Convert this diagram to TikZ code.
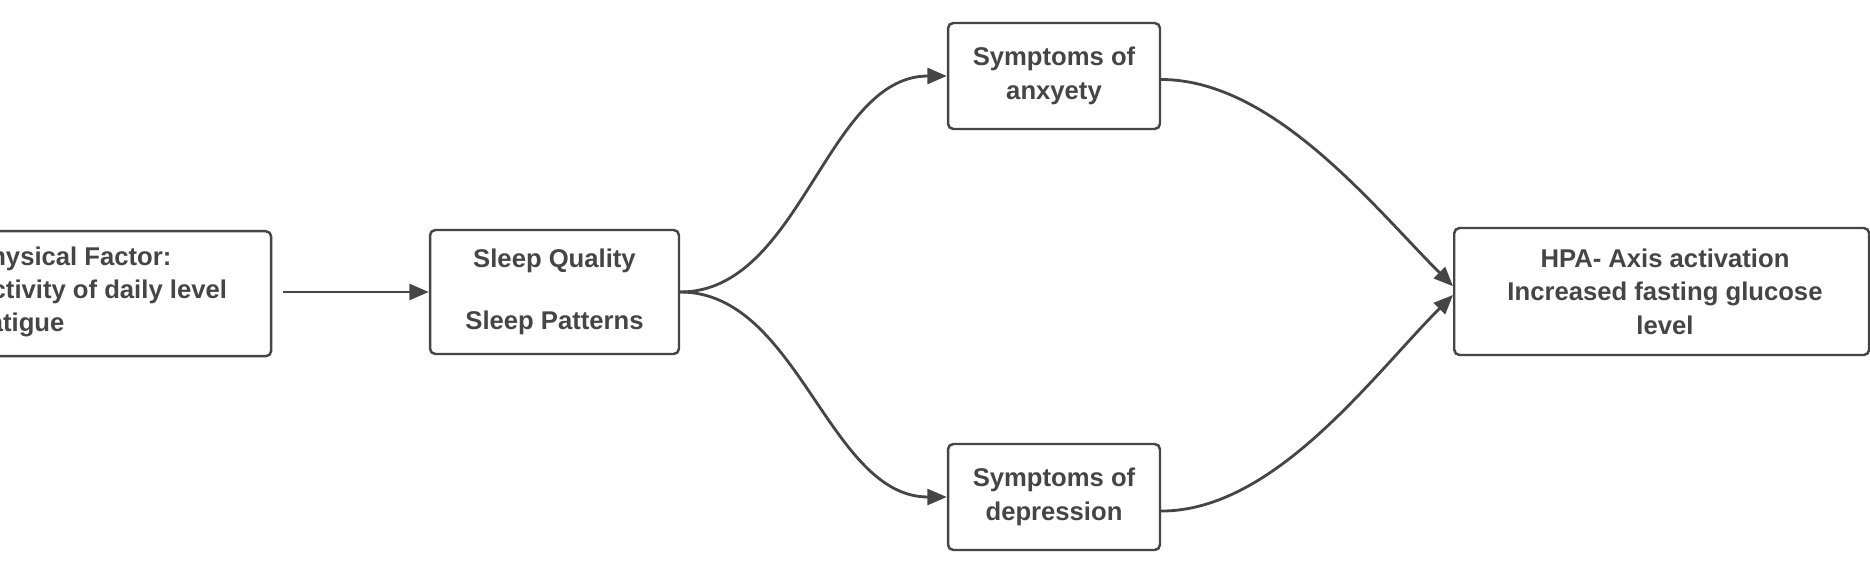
\documentclass[tikz,border=0pt]{standalone}
\usepackage{fontspec}
\setmainfont{Liberation Sans}
\usetikzlibrary{arrows.meta}
\definecolor{ink}{HTML}{454545}
\begin{document}
\begin{tikzpicture}[x=0.02cm,y=-0.02cm,
  txt/.style={font=\bfseries\fontsize{14.6}{19}\selectfont,text=ink},
  box/.style={draw=ink,line width=1.4pt,rounded corners=3pt,fill=white,txt,align=center},
  conn/.style={draw=ink,line width=1.6pt,-{Triangle[length=11pt,width=9pt]}}]
\useasboundingbox (0,0) rectangle (1870,577);
\begin{scope}
\clip (0,0) rectangle (1870,577);
\node[box,minimum width=6.3cm,anchor=north west,minimum height=2.5cm,inner sep=0pt] (phys) at (-45,230) {};
\end{scope}
\node[txt,align=left,anchor=west] (ptext) at (-33,292) {Physical Factor:\\ Activity of daily level\\ Fatigue};
\node[box,minimum width=4.98cm,minimum height=2.48cm] (sleep) at (554.5,292) {Sleep Quality\\[16pt]Sleep Patterns};
\node[box,minimum width=4.24cm,minimum height=2.12cm] (anx) at (1054,76) {Symptoms of\\anxyety};
\node[box,minimum width=4.24cm,minimum height=2.12cm] (dep) at (1054,497) {Symptoms of\\depression};
\begin{scope}
\clip (0,0) rectangle (1870,577);
\node[box,minimum width=8.3cm,minimum height=2.54cm,anchor=west] (hpa) at (1453,291.5) {};
\end{scope}
\node[txt,align=center] (htext) at (1665,291.5) {HPA- Axis activation\\Increased fasting glucose\\level};
\coordinate (pe) at (283,292);
\path[conn] (pe) -- (sleep.west);
\path[conn] (sleep.east) to[out=0,in=180,looseness=0.9] (anx.west);
\path[conn] (sleep.east) to[out=0,in=180,looseness=0.9] (dep.west);
\path[conn] ([yshift=-2pt]anx.east) to[out=0,in=135,looseness=0.8] ([yshift=3pt]hpa.west);
\path[conn] ([yshift=-8pt]dep.east) to[out=0,in=-135,looseness=0.8] ([yshift=-2pt]hpa.west);
\end{tikzpicture}
\end{document}
